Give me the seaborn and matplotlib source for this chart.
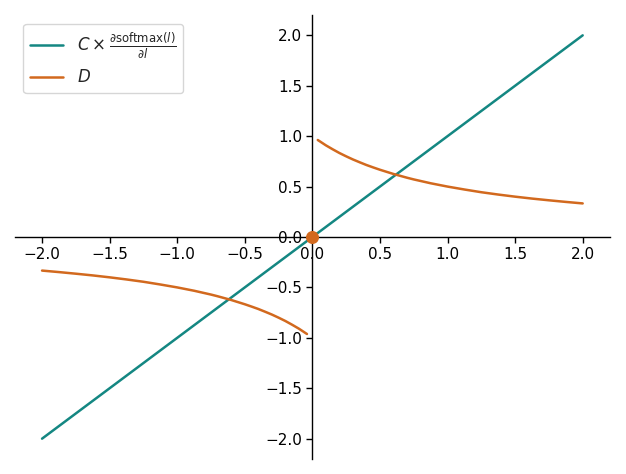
import matplotlib
matplotlib.use("Agg")
import matplotlib.pyplot as plt
import seaborn as sns
import pandas as pd

# Series C (straight line)
c_x = [-2.0, -1.0, 0.0, 1.0, 2.0]
c_y = [-2.0, -1.0, 0.0, 1.0, 2.0]

# Series D, positive branch
d_pos_x = [0.04, 0.1, 0.15, 0.2, 0.25, 0.3, 0.35, 0.4, 0.45, 0.5, 0.6, 0.7, 0.75,
           0.875, 1.0, 1.125, 1.25, 1.375, 1.5, 1.625, 1.75, 1.875, 2.0]
d_pos_y = [0.962, 0.909, 0.870, 0.833, 0.800, 0.769, 0.741, 0.714, 0.690, 0.667, 0.625,
           0.588, 0.571, 0.533, 0.500, 0.471, 0.444, 0.421, 0.400, 0.381, 0.364, 0.348, 0.333]
# Series D, negative branch
d_neg_x = [-2.0, -1.875, -1.75, -1.625, -1.5, -1.375, -1.25, -1.125, -1.0, -0.875,
           -0.75, -0.7, -0.6, -0.5, -0.45, -0.4, -0.35, -0.3, -0.25, -0.2, -0.15, -0.1, -0.04]
d_neg_y = [-0.333, -0.348, -0.364, -0.381, -0.400, -0.421, -0.444, -0.471, -0.500, -0.533,
           -0.571, -0.588, -0.625, -0.667, -0.690, -0.714, -0.741, -0.769, -0.800, -0.833,
           -0.870, -0.909, -0.962]

origin_x = [0.0]
origin_y = [0.0]

ticks = [-2.0, -1.5, -1.0, -0.5, 0.0, 0.5, 1.0, 1.5, 2.0]

teal = "#148782"
orange = "#d2691e"

sns.set_style("white")
plt.rcParams['font.family'] = ['DejaVu Sans']

fig = plt.figure(figsize=(6.26, 4.74), dpi=100)
ax = fig.add_axes([0.024, 0.032, 0.95, 0.936])

dfc = pd.DataFrame({"x": c_x, "y": c_y})
dfp = pd.DataFrame({"x": d_pos_x, "y": d_pos_y})
dfn = pd.DataFrame({"x": d_neg_x, "y": d_neg_y})

sns.lineplot(data=dfc, x="x", y="y", ax=ax, color=teal, lw=1.8,
             label=r"$C \times \frac{\partial \mathrm{softmax}(l)}{\partial l}$", sort=False)
sns.lineplot(data=dfp, x="x", y="y", ax=ax, color=orange, lw=1.8, label=r"$D$", sort=False)
sns.lineplot(data=dfn, x="x", y="y", ax=ax, color=orange, lw=1.8, sort=False)
ax.scatter(origin_x, origin_y, s=70, color=orange, zorder=5)

ax.set_xlim(-2.2, 2.2)
ax.set_ylim(-2.2, 2.2)
ax.set_xticks(ticks)
ax.set_yticks(ticks)
ax.set_xlabel("")
ax.set_ylabel("")

for s in ["left", "bottom"]:
    ax.spines[s].set_position("zero")
    ax.spines[s].set_color("black")
    ax.spines[s].set_linewidth(1.0)
ax.spines["top"].set_visible(False)
ax.spines["right"].set_visible(False)
ax.tick_params(axis="both", which="major", direction="out", length=4, width=1,
               bottom=True, left=True, labelsize=11, colors="black")

ax.legend(loc="upper left", frameon=True, fontsize=12)

fig.savefig("out.png", dpi=100)
